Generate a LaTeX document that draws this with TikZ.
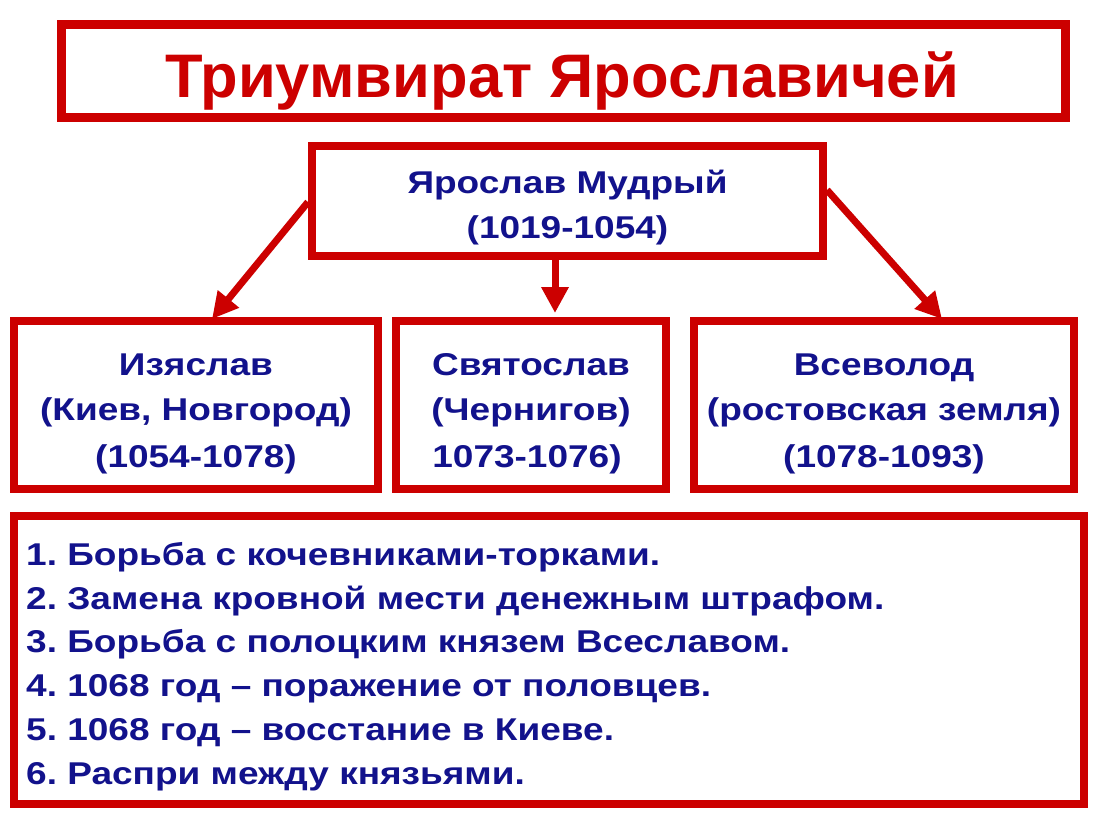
\documentclass[tikz,border=0pt]{standalone}
\usepackage{fontspec}
\setmainfont{Liberation Sans}
\newfontfamily\widesans[FakeStretch=1.175]{Liberation Sans}
\usetikzlibrary{arrows.meta}
\definecolor{boxred}{RGB}{204,0,0}
\definecolor{txtblue}{RGB}{18,18,140}
\frenchspacing
\begin{document}
\begin{tikzpicture}[x=1pt,y=-1pt,
  frame/.style={draw=boxred,line width=8.5pt,rectangle,inner sep=0pt,outer sep=0pt},
  bluetxt/.style={text=txtblue,font=\widesans\bfseries\fontsize{31.5}{36}\selectfont,inner sep=0pt,anchor=base},
  listtxt/.style={text=txtblue,font=\widesans\bfseries\fontsize{31.5}{36}\selectfont,inner sep=0pt,anchor=base west},
  arr/.style={draw=boxred,line width=7pt,-{Triangle[width=26pt,length=26pt]}}]
\useasboundingbox[fill=white] (0,0) rectangle (1102,828);
% boxes
\node[frame,line width=9pt,minimum width=1004pt,minimum height=93pt] (title) at (563.5,71) {};
\node[frame,minimum width=511pt,minimum height=110pt] (top) at (567.5,201) {};
\node[frame,minimum width=364pt,minimum height=168pt] (izy) at (196,405) {};
\node[frame,minimum width=270pt,minimum height=168pt] (svy) at (531,405) {};
\node[frame,minimum width=380pt,minimum height=168pt] (vse) at (884,405) {};
\node[frame,minimum width=1070pt,minimum height=288pt] (list) at (549,660) {};
% texts
\node[text=boxred,font=\bfseries\fontsize{61.5}{70}\selectfont,inner sep=0pt,anchor=base] (ttl) at (562,97) {Триумвират Ярославичей};
\node[bluetxt] (t1) at (567.5,193) {Ярослав Мудрый};
\node[bluetxt] (t2) at (567.5,238) {(1019-1054)};
\node[bluetxt] (a1) at (196,375) {Изяслав};
\node[bluetxt] (a2) at (196,420) {(Киев, Новгород)};
\node[bluetxt] (a3) at (196,467) {(1054-1078)};
\node[bluetxt] (b1) at (531,375) {Святослав};
\node[bluetxt] (b2) at (531,420) {(Чернигов)};
\node[bluetxt] (b3) at (527,467) {1073-1076)};
\node[bluetxt] (c1) at (884,375) {Всеволод};
\node[bluetxt] (c2) at (884,420) {(ростовская земля)};
\node[bluetxt] (c3) at (884,467) {(1078-1093)};
\node[listtxt] (l1) at (26,565) {1. Борьба с кочевниками-торками.};
\node[listtxt] (l2) at (26,609) {2. Замена кровной мести денежным штрафом.};
\node[listtxt] (l3) at (26,652) {3. Борьба с полоцким князем Всеславом.};
\node[listtxt] (l4) at (26,696) {4. 1068 год – поражение от половцев.};
\node[listtxt] (l5) at (26,740) {5. 1068 год – восстание в Киеве.};
\node[listtxt] (l6) at (26,784) {6. Распри между князьями.};
% connectors
\coordinate (ls) at (308,202);
\coordinate (le) at (212,319);
\coordinate (ms) at (555,258);
\coordinate (me) at (555,313);
\coordinate (rs) at (827,190);
\coordinate (re) at (942,319);
\draw[arr] (ls) -- (le);
\draw[arr] (ms) -- (me);
\draw[arr] (rs) -- (re);
\end{tikzpicture}
\end{document}
